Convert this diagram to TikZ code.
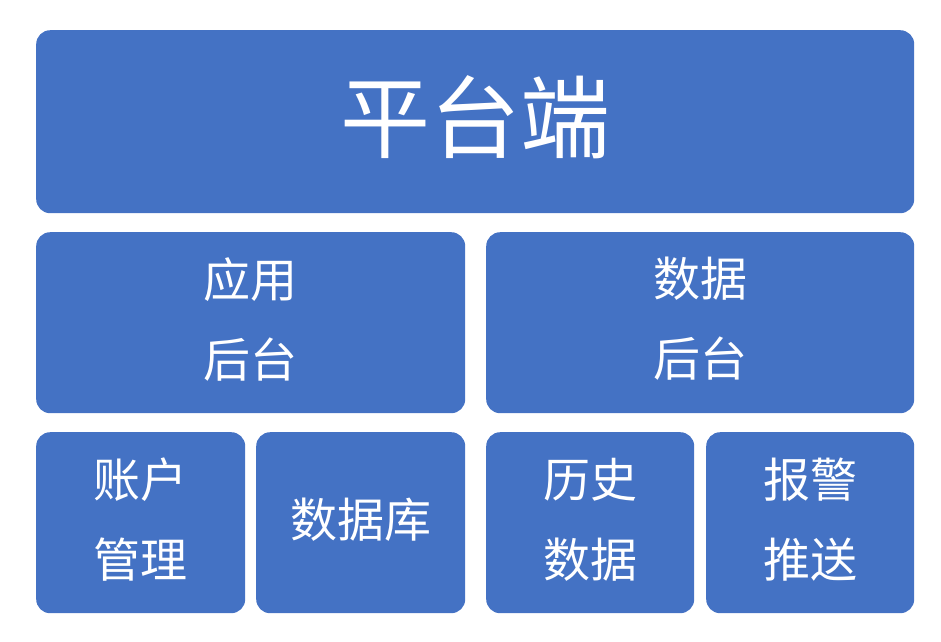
\documentclass[tikz,border=0pt]{standalone}
\usepackage{fontspec}
\newfontfamily\cjk{Noto Sans CJK SC}
\definecolor{boxblue}{HTML}{4472C4}
\tikzset{
  blk/.style={draw=none, fill=boxblue, rounded corners=14pt, text=white, align=center, inner sep=0pt, anchor=north west,
    font=\cjk\fontsize{47}{80}\selectfont},
  up/.style={text depth=#1},
}
\begin{document}
\begin{tikzpicture}[x=1pt,y=-1pt]
\useasboundingbox (0,0) rectangle (941,641);
\node[blk, minimum width=878pt, minimum height=183pt, font=\cjk\fontsize{90}{90}\selectfont, up=16pt] (top) at (36,30) {平台端};
\node[blk, minimum width=429pt, minimum height=181pt, up=11pt] (app) at (36,232) {应用\\后台};
\node[blk, minimum width=428pt, minimum height=181pt, up=11pt] (data) at (486,232) {数据\\后台};
\node[blk, minimum width=209pt, minimum height=181pt, up=10pt] (acct) at (36,432) {账户\\管理};
\node[blk, minimum width=209pt, minimum height=181pt, up=10pt] (db) at (256,432) {数据库};
\node[blk, minimum width=208pt, minimum height=181pt, up=10pt] (hist) at (486,432) {历史\\数据};
\node[blk, minimum width=208pt, minimum height=181pt, up=10pt] (alarm) at (706,432) {报警\\推送};
\end{tikzpicture}
\end{document}
